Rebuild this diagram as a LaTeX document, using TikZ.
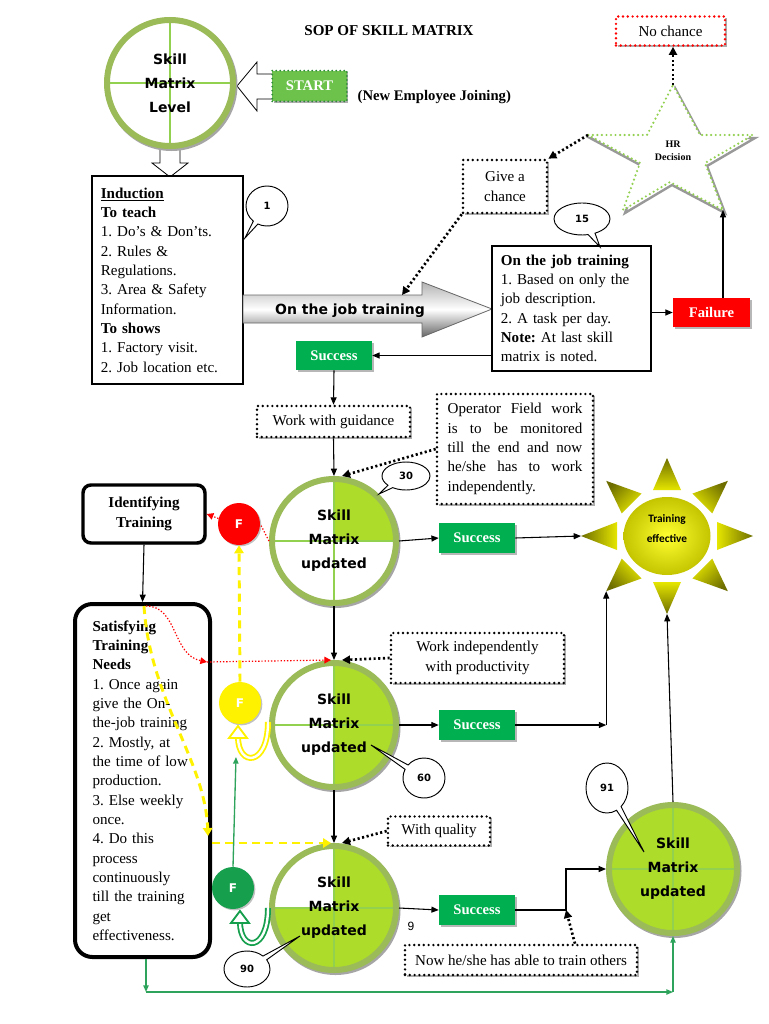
\documentclass[tikz,border=0pt]{standalone}
\usepackage{fontspec}
\setmainfont{Liberation Serif}
\newfontfamily\dvs{DejaVu Sans}
\newfontfamily\carl{Carlito}
\newfontfamily\lsans{Liberation Sans}
\usetikzlibrary{arrows.meta, shapes.geometric, shapes.callouts, shadows, calc}

\definecolor{ringg}{HTML}{9BBB59}
\definecolor{crossg}{HTML}{92D050}
\definecolor{limeg}{HTML}{AEDC2A}
\definecolor{succg}{HTML}{00B050}
\definecolor{startg}{HTML}{6CC24A}
\definecolor{startdot}{HTML}{2E8B3A}
\definecolor{fgreen}{HTML}{16A04E}
\definecolor{lgreen}{HTML}{2EA35C}
\definecolor{staryg}{HTML}{92D050}
\definecolor{sunin}{HTML}{FFFF30}
\definecolor{sunout}{HTML}{C4C400}
\definecolor{raydark}{HTML}{6E6E00}
\definecolor{raylight}{HTML}{E6E600}

\tikzset{
  txt/.style={font=\fontsize{11.3}{14.5}\selectfont},
  arr/.style={-{Triangle[length=5.5pt,width=4.5pt]}, line width=0.8pt},
  garr/.style={-{Triangle[length=5pt,width=4pt]}, draw=lgreen, line width=1pt},
  dotbox/.style={draw=black, dash pattern=on 0pt off 3.6pt, line cap=round, line width=2pt, fill=white,
     drop shadow={shadow xshift=1.2pt, shadow yshift=-1.2pt, fill=black!40, opacity=0.8}, txt, align=center, inner sep=0pt},
  dotarr/.style={dash pattern=on 1.6pt off 1.9pt, line width=2pt, -{Triangle[length=6pt,width=6pt]}},
  rdot/.style={draw=red, dash pattern=on 1pt off 1.4pt, line width=0.9pt, -{Triangle[length=5pt,width=5pt]}},
  ydash/.style={draw=yellow, line width=2.2pt, dash pattern=on 6pt off 4pt, -{Triangle[length=6pt,width=7pt]}},
  succ/.style={fill=succg, text=white, font=\fontsize{11}{13}\selectfont\bfseries, minimum width=57pt, minimum height=22pt, inner sep=0pt,
     drop shadow={shadow xshift=1.5pt, shadow yshift=-1.5pt, fill=black!35, opacity=0.8}},
  smc/.style={circle, draw=ringg, line width=4.5pt, inner sep=0pt, align=center, font=\dvs\bfseries\fontsize{10.5}{18}\selectfont},
  crossl/.style={draw=crossg, line width=1.8pt},
  shad/.style={draw=black!35, line width=4.5pt},
  fcirc/.style={circle, minimum size=31.5pt, inner sep=0pt, text=white, font=\dvs\bfseries\fontsize{9}{10}\selectfont,
     drop shadow={shadow xshift=1pt, shadow yshift=-1pt, fill=black!30, opacity=0.8}},
  bubble/.style={ellipse callout, draw, line width=0.7pt, fill=white, inner sep=0pt, font=\dvs\bfseries\fontsize{7.5}{9}\selectfont},
  rbox/.style={draw, rounded corners=6pt, line width=2.6pt, fill=white, txt,
     drop shadow={shadow xshift=1.2pt, shadow yshift=-1.2pt, fill=black!40, opacity=0.8}},
  plainbox/.style={draw, line width=0.8pt, fill=white, txt, align=left, inner sep=0pt},
}

% #1 name, #2 x, #3 y, #4 r (px), #5 fill code, #6 text
\newcommand\skc[6]{%
  \draw[shad] (#2+1.5,#3+2) circle (#4);
  \fill[white] (#2,#3) circle (#4);
  \begin{scope}\clip (#2,#3) circle (#4); #5 \end{scope}
  \draw[crossl] (#2-#4,#3) -- (#2+#4,#3) (#2,#3-#4) -- (#2,#3+#4);
  \node[smc, minimum size=#4*1.5pt] (#1) at (#2,#3) {#6};
}

\begin{document}
\frenchspacing
\begin{tikzpicture}[x=0.75pt, y=-0.75pt]
\useasboundingbox (0,0) rectangle (768,1024);
\fill[white] (0,0) rectangle (768,1024);

% title
\node[font=\fontsize{11.3}{13}\selectfont\bfseries] (title) at (389,31) {SOP OF SKILL MATRIX};

% hollow arrows
\draw[fill=white, line width=0.6pt] (237,86) -- (257,62) -- (257,74) -- (273,74) -- (273,99) -- (257,99) -- (257,111) -- cycle;
\draw[fill=white, line width=0.6pt] (160,147) -- (180,147) -- (180,163) -- (188,163) -- (170,177) -- (152,163) -- (160,163) -- cycle;

% circle 1
\skc{c1}{170}{83}{63}{}{Skill\\Matrix\\Level}

% start
\node[fill=startg, draw=startdot, dash pattern=on 0pt off 3pt, line cap=round, line width=1.5pt, text=white,
  font=\fontsize{11}{13}\selectfont\bfseries, minimum width=56pt, minimum height=23pt, inner sep=0pt,
  drop shadow={shadow xshift=1.2pt, shadow yshift=-1.2pt, fill=black!40, opacity=0.8}] (start) at (309.5,86) {START};
\node[font=\fontsize{11}{13}\selectfont\bfseries, anchor=west] (newemp) at (353,97) {(New Employee Joining)};

% star
\coordinate (sT) at (673,85); \coordinate (sR) at (753,135); \coordinate (sBR) at (723,210);
\coordinate (sBL) at (623,210); \coordinate (sL) at (588,135);
\draw[black!40, line width=1.8pt, shift={(2,3)}] (673,85) -- (700,135) -- (753,135) -- (705,163) -- (723,210) -- (670,182) -- (623,210) -- (640,163) -- (588,135) -- (647,135) -- cycle;
\fill[white] (673,85) -- (700,135) -- (753,135) -- (705,163) -- (723,210) -- (670,182) -- (623,210) -- (640,163) -- (588,135) -- (647,135) -- cycle;
\draw[staryg, dash pattern=on 0pt off 3.4pt, line cap=round, line width=1.8pt] (673,85) -- (700,135) -- (753,135) -- (705,163) -- (723,210) -- (670,182) -- (623,210) -- (640,163) -- (588,135) -- (647,135) -- cycle;
\node[font=\bfseries\fontsize{7.5}{10}\selectfont, align=center] (hr) at (673,151) {HR\\Decision};

\node[dotbox, draw=red, minimum width=81.75pt, minimum height=21.75pt] (nochance) at (670.5,31) {No chance};
\node[dotbox, minimum width=63pt, minimum height=39.75pt] (give) at (505,186.5) {Give a\\chance};

% induction
\node[plainbox, minimum width=113.25pt, minimum height=156pt, text width=100pt] (ind) at (167.5,280)
 {\textbf{\underline{Induction}}\\\textbf{To teach}\\1. Do's \& Don'ts.\\2. Rules \&\\Regulations.\\3. Area \& Safety\\Information.\\\textbf{To shows}\\1. Factory visit.\\2. Job location etc.};
\node[bubble, minimum width=31.5pt, minimum height=30pt, callout absolute pointer={(245,238)}] (b1) at (267,206) {1};

% big arrow
\shadedraw[top color=black!30, bottom color=black!60, middle color=white, draw=black!60, line width=0.6pt]
  (243,295) -- (422,295) -- (422,282) -- (492,309) -- (422,337) -- (422,323) -- (243,323) -- cycle;
\node[font=\dvs\bfseries\fontsize{10.5}{12}\selectfont] (ojtlbl) at (350,311) {On the job training};
\coordinate (ojtin) at (402,295);

% OJT box
\node[plainbox, minimum width=119.25pt, minimum height=93.75pt, text width=106pt] (ojt) at (571.5,308.5)
 {\textbf{On the job training}\\1. Based on only the\\job description.\\2. A task per day.\\\textbf{Note:} At last skill\\matrix is noted.};
\node[bubble, minimum width=42pt, minimum height=24pt, callout absolute pointer={(600,247)}] (b15) at (582,219) {15};
\node[fill=red, text=white, font=\fontsize{11}{13}\selectfont\bfseries, minimum width=57.75pt, minimum height=21.75pt, inner sep=0pt,
  drop shadow={shadow xshift=1.5pt, shadow yshift=-1.5pt, fill=black!35, opacity=0.8}] (fail) at (711.5,312.5) {Failure};

\node[succ] (s1) at (334,355.5) {Success};
\node[dotbox, minimum width=114.75pt, minimum height=23.25pt] (wwg) at (333.5,421.5) {Work with guidance};
\node[dotbox, minimum width=117pt, minimum height=82.5pt, text width=101pt, align=justify] (op) at (515,449)
 {Operator Field work\linebreak is to be monitored\linebreak till the end and now\linebreak he/she has to work\linebreak independently.};

% skill circles
\skc{c30}{334}{541}{62}{\fill[limeg] (334,479) rectangle (396,541);}{Skill\\Matrix\\updated}
\skc{c60}{334}{725}{62}{\fill[limeg] (334,663) rectangle (396,787);}{Skill\\Matrix\\updated}
\skc{c90}{334}{908}{62}{\fill[limeg] (334,846) rectangle (396,970); \fill[limeg] (272,908) rectangle (334,970);}{Skill\\Matrix\\updated}
\skc{c91}{673}{869}{64}{\fill[limeg] (609,805) rectangle (737,933);}{Skill\\Matrix\\updated}

% sun
\foreach \a in {0,45,...,315}{
  \pgfmathsetmacro\sa{\a-90}
  \shade[top color=raydark, bottom color=raylight, shading angle=\sa]
    ({667+86*cos(\a)},{536-78*sin(\a)}) -- ({667+50*cos(\a)+14*sin(\a)},{536-46*sin(\a)+14*cos(\a)})
    -- ({667+50*cos(\a)-14*sin(\a)},{536-46*sin(\a)-14*cos(\a)}) -- cycle;
}
\coordinate (rayL) at (581,536);
\coordinate (rayB) at (667,614);
\coordinate (rayLL) at (606.2,591.2);
\node[ellipse, minimum width=65.25pt, minimum height=58.5pt, inner color=sunin, outer color=sunout] (sun) at (667,536) {};
\node[font=\carl\bfseries\fontsize{8.5}{15}\selectfont, align=center] (suntxt) at (667,529) {Training\\effective};

% success boxes
\node[succ] (s2) at (477,538) {Success};
\node[succ] (s3) at (477,725) {Success};
\node[succ] (s4) at (477,910) {Success};

\node[dotbox, minimum width=129.75pt, minimum height=37.5pt] (wip) at (477.5,658) {Work independently\\with productivity};
\node[dotbox, minimum width=76.5pt, minimum height=21.75pt] (wq) at (439,831) {With quality};
\node[dotbox, minimum width=174pt, minimum height=22.5pt] (nhs) at (521,960) {Now he/she has able to train others};

% left boxes
\node[rbox, minimum width=91.5pt, minimum height=43.5pt, align=center, font=\bfseries\fontsize{11.3}{14.5}\selectfont] (idt) at (144,514) {Identifying\\Training};
\node[rbox, rounded corners=13pt, line width=3pt, minimum width=101.25pt, minimum height=264.75pt, text width=75pt, align=left, inner sep=0pt] (stn) at (142.5,780.5)
 {\textbf{Satisfying}\\\textbf{Training}\\\textbf{Needs}\\1. Once again\\give the On-\\the-job training\\2. Mostly, at\\the time of low\\production.\\3. Else weekly\\once.\\4. Do this\\process\\continuously\\till the training\\get\\effectiveness.};

% F circles
\node[fcirc, fill=red] (fr) at (239,524) {F};
\node[fcirc, fill=yellow] (fy) at (240,703) {F};
\node[fcirc, fill=fgreen] (fg) at (233,888) {F};

% U-turn arrows
\draw[line width=4.5pt, yellow] (268,722) .. controls (268,767) and (238,767) .. (238,737);
\draw[line width=1.8pt, white] (268,722) .. controls (268,767) and (238,767) .. (238,737);
\draw[yellow, line width=1.4pt, fill=white] (238,726) -- (229,738) -- (247,738) -- cycle;
\draw[line width=4.5pt, fgreen] (268,908) .. controls (268,952) and (240,952) .. (240,922);
\draw[line width=1.8pt, white] (268,908) .. controls (268,952) and (240,952) .. (240,922);
\draw[fgreen, line width=1.4pt, fill=white] (240,911) -- (231,923) -- (249,923) -- cycle;

\node[font=\lsans\fontsize{9}{10}\selectfont] (nine) at (411,926) {9};

% connectors top
\draw[arr] (ojt.east |- fail) -- (fail.west);
\draw[arr] (sBR |- fail.north) -- (sBR);
\draw[dotarr] (sT) -- (sT |- nochance.south);
\draw[dotarr] (sL) -- (give.north east);
\draw[dotarr] (give.south west) -- (ojtin);
\draw[arr] (ojt.west |- s1) -- (s1.east);
\draw[arr] (s1.south) -- (wwg.north);
\draw[arr] (wwg.south) -- (c30.north);
\draw[dotarr] (op.west) -- ($(c30.north)+(8,0)$);

% main chain
\draw[arr] (c30.east) -- (s2.west);
\draw[arr] (s2.east) -- (rayL);
\draw[arr] (c30.south) -- (c60.north);
\draw[dotarr] (wip.west) -- ($(c60.north)+(8,0)$);
\draw[arr] (c60.east) -- (s3.west);
\coordinate (k3) at (rayLL |- s3.east);
\draw[arr] (s3.east) -- (k3);
\draw[arr] (k3) -- (rayLL);
\draw[arr] (c60.south) -- (c90.north);
\draw[dotarr] (wq.west) -- ($(c90.north)+(8,0)$);
\draw[arr] (c90.east) -- (s4.west);
\coordinate (k4b) at (566,869);
\draw[arr] (s4.east) -| (k4b) -- (c91.west);
\draw[dotarr] ($(nhs.north)+(54,0)$) -- (s4.east -| k4b);
\draw[arr] (c91.north) -- (rayB);

% left side
\draw[arr] (idt.south) -- (stn.north);
\draw[rdot] (fr.165) -- (idt.east);
\draw[rdot, -] (c30.west) -- (fr.east);
\draw[rdot] (146,606) .. controls (178,606) and (172,655) .. (207,662);
\draw[rdot] (207,662) -- ($(c60.north)+(-3,0)$);
\draw[ydash] (fy.north) -- (fr.south);
\draw[ydash] (144,606) .. controls (150,700) and (205,760) .. (208,836);
\draw[ydash] (212,843) -- ($(c90.north)+(-3,0)$);
\coordinate (uy) at (236,757);
\draw[garr] (fg.north) -- (uy);

% green bottom
\coordinate (g1) at (146,992);
\coordinate (g2) at (673,992);
\draw[garr] (g1 |- stn.south) -- (g1);
\draw[garr] (g1) -- (g2);
\draw[garr] (g2) -- (c91.south);

% callouts
\node[bubble, minimum width=36pt, minimum height=21pt, callout absolute pointer={(379,494)}] (b30) at (406,476) {30};
\node[bubble, minimum width=31.5pt, minimum height=30pt, callout absolute pointer={(371,745)}] (b60) at (424,778) {60};
\node[bubble, minimum width=34.5pt, minimum height=27pt, callout absolute pointer={(300,936)}] (b90) at (247,969) {90};
\node[bubble, minimum width=31.5pt, minimum height=37.5pt, callout absolute pointer={(644,852)}] (b91) at (607,788) {91};
\end{tikzpicture}
\end{document}
